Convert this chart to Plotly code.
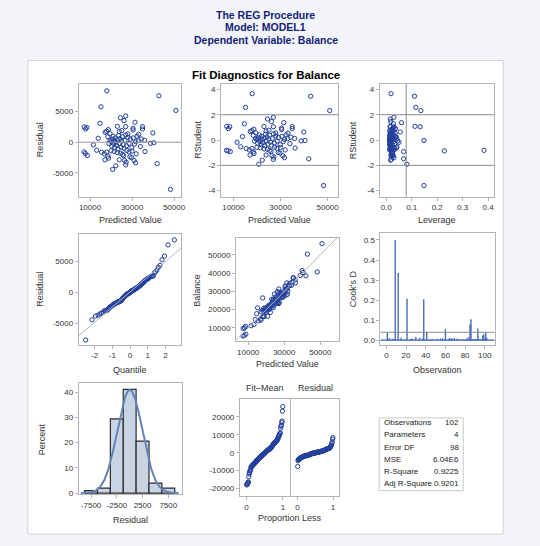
import numpy as np
import plotly.graph_objects as go
from statistics import NormalDist

# ---------------- data ----------------
observation = list(range(1, 103))
predicted = [
    7200, 22000, 26400, 19000, 33000, 17100, 24300, 30500, 48300, 21200,
    13900, 42800, 25400, 28500, 14700, 23000, 31700, 20300, 27000, 18500,
    15200, 24700, 29200, 16800, 22600, 35000, 26000, 21500, 38800, 8700,
    23600, 27400, 19500, 31000, 20600, 25000, 18800, 50900, 23300, 26600,
    8500, 22300, 33200, 21800, 27500, 17900, 36200, 24000, 30000, 11600,
    25800, 23900, 28000, 20000, 7900, 29900, 26200, 21000, 32400, 7750,
    23000, 34400, 18700, 27200, 28600, 24500, 15500, 30600, 22300, 26200,
    13150, 35000, 21500, 40400, 25100, 31200, 17200, 24500, 36000, 27000,
    29800, 23900, 31700, 20000, 20800, 7100, 28000, 18500, 34000, 23000,
    39900, 25500, 18000, 30500, 17900, 32000, 19500, 27000, 31400, 29000,
    42000, 27000]
residual = [
    2500, 700, -2990, -200, 270, -2880, 600, 2280, -7700, -300,
    650, 7600, 900, -1600, 3100, 400, 110, -600, 2550, 900,
    5800, -800, 500, -1900, -500, 2550, -2200, 200, -160, -2170,
    1100, -600, 1400, -2990, 500, 200, -2600, 5200, -1100, 300,
    2400, 0, 1300, -900, -1350, 1790, -1520, -200, -1450, -430,
    -400, -2880, 800, 100, 2170, -900, 3530, 1000, 1000, -1850,
    -1700, 540, 2060, -3260, -200, 4000, -1630, 700, -3850, -1000,
    -1300, 2170, -1500, -80, 1900, -300, 1630, -1800, 300, 1200,
    -2500, 1740, -3370, -1400, -4450, -1580, 1350, -2280, -700, 2600,
    1520, -2000, 8400, 2000, -1630, -1900, 300, 4300, 3260, -2400,
    -3500, -3700]
leverage = [
    0.113, 0.021, 0.024, 0.018, 0.032, 0.020, 0.014, 0.026, 0.148, 0.016,
    0.038, 0.111, 0.015, 0.022, 0.028, 0.013, 0.030, 0.019, 0.017, 0.025,
    0.116, 0.014, 0.021, 0.027, 0.015, 0.030, 0.020, 0.016, 0.045, 0.068,
    0.014, 0.017, 0.022, 0.028, 0.018, 0.013, 0.023, 0.136, 0.014, 0.016,
    0.133, 0.017, 0.035, 0.016, 0.018, 0.024, 0.040, 0.013, 0.025, 0.050,
    0.015, 0.019, 0.019, 0.020, 0.035, 0.023, 0.018, 0.017, 0.031, 0.228,
    0.015, 0.038, 0.021, 0.020, 0.020, 0.016, 0.033, 0.026, 0.017, 0.016,
    0.042, 0.036, 0.016, 0.148, 0.015, 0.029, 0.026, 0.014, 0.041, 0.017,
    0.024, 0.014, 0.030, 0.019, 0.081, 0.384, 0.019, 0.022, 0.034, 0.015,
    0.055, 0.015, 0.019, 0.026, 0.024, 0.031, 0.021, 0.030, 0.060, 0.022,
    0.068, 0.020]

stat_labels = ["Observations", "Parameters", "Error DF", "MSE", "R-Square", "Adj R-Square"]
stat_values = ["102", "4", "98", "6.04E6", "0.9225", "0.9201"]
n_obs = 102
n_par = 4
mse = 6.04e6

# ---------------- derived diagnostics ----------------
pred = np.array(predicted, float)
res = np.array(residual, float)
lev = np.array(leverage, float)
dfe = n_obs - n_par
s_i2 = (mse * dfe - res**2 / (1 - lev)) / (dfe - 1)
rstudent = res / np.sqrt(s_i2 * (1 - lev))
stud = res / np.sqrt(mse * (1 - lev))
cooksd = stud**2 / n_par * lev / (1 - lev)
balance = pred + res
nd = NormalDist()
order = np.argsort(res)
res_sorted = res[order]
quant = np.array([nd.inv_cdf((i - 0.375) / (n_obs + 0.25)) for i in range(1, n_obs + 1)])
res_sd = res.std(ddof=1)
res_mean = res.mean()
fit_mean = np.sort(pred - balance.mean())
prop = (np.arange(1, n_obs + 1) - 0.5) / n_obs
bin_w = 2500
edges = np.arange(-8750, 8751, bin_w)
counts, _ = np.histogram(res, bins=edges)
pct = counts / n_obs * 100
centers = (edges[:-1] + edges[1:]) / 2
curve_x = np.linspace(-9500, 9500, 200)
curve_y = np.array([NormalDist(res_mean, res_sd).pdf(v) for v in curve_x]) * bin_w * 100

# ---------------- styling ----------------
W, H = 540, 546
FONT = "Liberation Sans, Arial, sans-serif"
MC = "#22409c"
AX = "#b4b4b4"
TXT = "#333333"
REF = "#9a9a9a"
PAGE_BG = "#f3f5fa"

def xd(a, b):
    return [a / W, b / W]

def yd(a, b):
    return [1 - b / H, 1 - a / H]

def labels(vals, fmt):
    return [format(v, fmt) for v in vals]

fig = go.Figure()

def scat(x, y, k):
    fig.add_trace(go.Scatter(x=x, y=y, mode="markers", xaxis="x%s" % k, yaxis="y%s" % k,
                             marker=dict(symbol="circle-open", size=4.3, color=MC, line=dict(width=1)),
                             hoverinfo="skip", showlegend=False))

boxes = {
    1: (79.3, 182.7, 84.7, 198.3),
    2: (222.7, 341, 84.7, 198.3),
    3: (382.7, 497.7, 84.7, 198.3),
    4: (79.3, 182.7, 235.3, 347.3),
    5: (237.7, 342, 240, 344),
    6: (383.3, 498.3, 234.7, 347.3),
    7: (79.3, 183.3, 386, 497.7),
    8: (241.7, 291.7, 401.7, 500),
    9: (293.3, 342, 401.7, 500),
}
xr = {1: [4600, 53500], 2: [4800, 54600], 3: [-0.025, 0.423], 4: [-2.9, 2.9],
      5: [3200, 60600], 6: [-6, 110], 7: [-9900, 10150], 8: [-0.18, 1.18], 9: [-0.18, 1.18]}
yr = {1: [-8930, 9510], 2: [-4.49, 4.42], 3: [-4.49, 4.42], 4: [-8470, 9420],
      5: [2550, 59080], 6: [-0.023, 0.535], 7: [-0.4, 43.6], 8: [-24400, 30200], 9: [-24400, 30200]}
xt = {1: [10000, 30000, 50000], 2: [10000, 30000, 50000], 3: [0, 0.1, 0.2, 0.3, 0.4],
      4: [-2, -1, 0, 1, 2], 5: [10000, 30000, 50000], 6: [0, 20, 40, 60, 80, 100],
      7: [-7500, -2500, 2500, 7500], 8: [0, 1], 9: [0, 1]}
yt = {1: [-5000, 0, 5000], 2: [-4, -2, 0, 2, 4], 3: [-4, -2, 0, 2, 4], 4: [-5000, 0, 5000],
      5: [10000, 20000, 30000, 40000, 50000], 6: [0, 0.1, 0.2, 0.3, 0.4, 0.5],
      7: [0, 10, 20, 30, 40], 8: [-20000, -10000, 0, 10000, 20000], 9: []}
xfmt = {3: ".1f"}
yfmt = {6: ".1f"}

layout = {}
for k, (x0, x1, y0, y1) in boxes.items():
    sx = "" if k == 1 else str(k)
    common = dict(showline=True, mirror=True, linecolor=AX, linewidth=1, ticks="outside",
                  ticklen=3, tickcolor=AX, showgrid=False, zeroline=False,
                  tickfont=dict(size=8, color=TXT, family=FONT), fixedrange=True, tickmode="array")
    layout["xaxis" + sx] = dict(common, domain=xd(x0, x1), range=xr[k], tickvals=xt[k],
                                ticktext=labels(xt[k], xfmt.get(k, ".0f")), anchor="y" + sx)
    layout["yaxis" + sx] = dict(common, domain=yd(y0, y1), range=yr[k], tickvals=yt[k],
                                ticktext=labels(yt[k], yfmt.get(k, ".0f")), anchor="x" + sx,
                                showticklabels=(k != 9))

# panel traces
scat(pred, res, "")
scat(pred, rstudent, 2)
scat(lev, rstudent, 3)
scat(quant, res_sorted, 4)
scat(pred, balance, 5)
scat(prop, fit_mean, 8)
scat(prop, res_sorted, 9)

# QQ reference line
qx = np.array(xr[4])
fig.add_trace(go.Scatter(x=qx, y=res_mean + res_sd * qx, mode="lines", xaxis="x4", yaxis="y4",
                         line=dict(color="#b8b8b8", width=1), hoverinfo="skip", showlegend=False))
# identity line
dx = np.array(xr[5])
fig.add_trace(go.Scatter(x=dx, y=dx, mode="lines", xaxis="x5", yaxis="y5",
                         line=dict(color="#b8b8b8", width=1), hoverinfo="skip", showlegend=False))
# Cook's D needles
nx, ny = [], []
for o, d in zip(observation, cooksd):
    nx += [o, o, None]
    ny += [0, d, None]
fig.add_trace(go.Scatter(x=nx, y=ny, mode="lines", xaxis="x6", yaxis="y6",
                         line=dict(color="#3b61b6", width=1.3), hoverinfo="skip", showlegend=False))
# histogram
fig.add_trace(go.Bar(x=centers, y=pct, width=bin_w, xaxis="x7", yaxis="y7",
                     marker=dict(color="#c8d3e4", line=dict(color="#2a2a2a", width=1.2)),
                     hoverinfo="skip", showlegend=False))
fig.add_trace(go.Scatter(x=curve_x, y=curve_y, mode="lines", xaxis="x7", yaxis="y7",
                         line=dict(color="#6383b5", width=2), hoverinfo="skip", showlegend=False))

shapes = [
    dict(type="rect", xref="paper", yref="paper", x0=28 / W, x1=507 / W, y0=1 - 538 / H, y1=1 - 61 / H,
         fillcolor="white", line=dict(color="#d2d2d2", width=1), layer="below"),
    dict(type="line", xref="x domain", yref="y", x0=0, x1=1, y0=0, y1=0, line=dict(color=REF, width=1)),
    dict(type="rect", xref="paper", yref="paper", x0=382 / W, x1=466.7 / W, y0=1 - 494.3 / H, y1=1 - 421 / H,
         fillcolor="rgba(0,0,0,0)", line=dict(color="#c8c8c8", width=1)),
]
for k in ("2", "3"):
    for lvl in (-2, 2):
        shapes.append(dict(type="line", xref="x%s domain" % k, yref="y" + k, x0=0, x1=1, y0=lvl, y1=lvl,
                           line=dict(color="#8c8c8c", width=1)))
shapes.append(dict(type="line", xref="x3", yref="y3 domain", x0=2 * n_par / n_obs, x1=2 * n_par / n_obs,
                   y0=0, y1=1, line=dict(color="#8c8c8c", width=1)))
shapes.append(dict(type="line", xref="x6 domain", yref="y6", x0=0, x1=1, y0=4 / n_obs, y1=4 / n_obs,
                   line=dict(color="#8c8c8c", width=1)))
shapes.append(dict(type="line", xref="x6 domain", yref="y6", x0=0, x1=1, y0=0, y1=0,
                   line=dict(color="#3b61b6", width=1.3)))

ann = []
def txt(s, x, y, size=9, color=TXT, angle=0, xanchor="center", bold=False):
    ann.append(dict(text=("<b>%s</b>" % s) if bold else s, x=x / W, y=1 - y / H, xref="paper", yref="paper",
                    showarrow=False, textangle=angle, xanchor=xanchor, yanchor="middle",
                    font=dict(size=size, color=color, family=FONT)))

txt("The REG Procedure", 267.5, 15, size=10.5, color="#112277", bold=True)
txt("Model: MODEL1", 267.5, 27.5, size=10.5, color="#112277", bold=True)
txt("Dependent Variable: Balance", 267.5, 40, size=10.5, color="#112277", bold=True)
txt("Fit Diagnostics for Balance", 267.5, 75.5, size=11.5, color="#000000", bold=True)

txt("Residual", 40.7, 141, angle=-90)
txt("Predicted Value", 131, 221.7)
txt("RStudent", 199.3, 141, angle=-90)
txt("Predicted Value", 282, 221.7)
txt("RStudent", 356, 141, angle=-90)
txt("Leverage", 440, 221.7)
txt("Residual", 40.7, 291.5, angle=-90)
txt("Quantile", 131, 372.7)
txt("Balance", 198.3, 292, angle=-90)
txt("Predicted Value", 290, 366.7)
txt("Cook's D", 356, 291, angle=-90)
txt("Observation", 440.5, 372.7)
txt("Percent", 41.7, 442, angle=-90)
txt("Residual", 131.3, 524)
txt("Fit\u2013Mean", 266.7, 391)
txt("Residual", 317.7, 391)
txt("Proportion Less", 291.8, 522.3)

for i, (lab, val) in enumerate(zip(stat_labels, stat_values)):
    yy = 425.7 + i * 12.3
    txt(lab, 385, yy, size=8, color="#222222", xanchor="left")
    txt(val, 464.7, yy, size=8, color="#222222", xanchor="right")

fig.update_layout(width=W, height=H, autosize=False, margin=dict(l=0, r=0, t=0, b=0),
                  paper_bgcolor=PAGE_BG, plot_bgcolor="white", showlegend=False,
                  shapes=shapes, annotations=ann, bargap=0, font=dict(family=FONT), **layout)
fig.write_html("out.html", config={"displayModeBar": False, "staticPlot": True},
               post_script="document.body.style.margin='0px';document.body.style.overflow='hidden';"
                           "document.body.style.background='" + PAGE_BG + "';")
